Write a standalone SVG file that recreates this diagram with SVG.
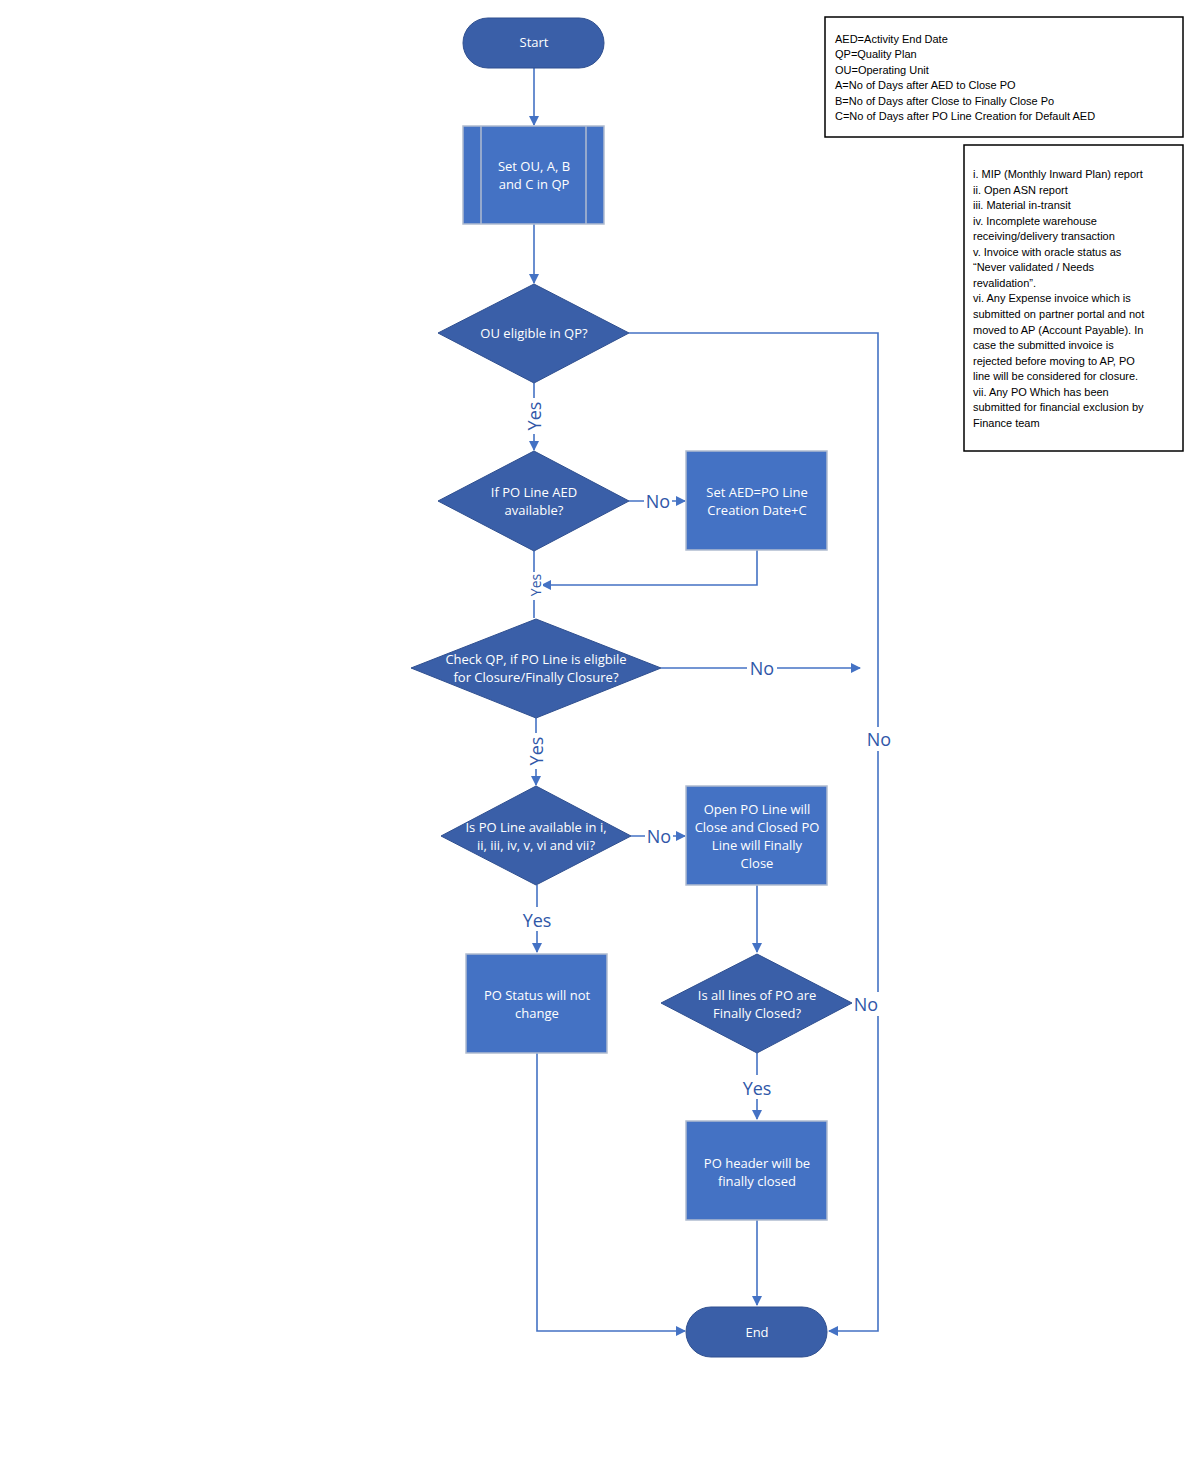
<svg xmlns="http://www.w3.org/2000/svg" width="1200" height="1465" viewBox="0 0 1200 1465">
<style>
.t{fill:#3a5fa8;stroke:#2f4f8f;stroke-width:1}
.d{fill:#3a5fa8;stroke:#2f4f8f;stroke-width:1}
.p{fill:#4472c4;stroke:#b0bcd0;stroke-width:1.5}
.w{font-family:"Open Sans","Liberation Sans",sans-serif;font-size:13px;fill:#fff;text-anchor:middle}
.c{fill:none;stroke:#4472c4;stroke-width:1.6}
.l{font-family:"Open Sans","Liberation Sans",sans-serif;font-size:18px;fill:#2f57a8;text-anchor:middle}
.n{font-family:"Liberation Sans",sans-serif;font-size:11px;fill:#000}
.b{fill:#fff;stroke:#000;stroke-width:1.5}
</style>
<defs><marker id="a" markerWidth="10" markerHeight="10" refX="9" refY="5" orient="auto" markerUnits="userSpaceOnUse"><path d="M0,0 L10,5 L0,10 z" fill="#4472c4"/></marker></defs>
<rect width="1200" height="1465" fill="#fff"/>
<g id="connectors">
<path class="c" d="M534,68 V125" marker-end="url(#a)"/>
<path class="c" d="M534,224 V283" marker-end="url(#a)"/>
<path class="c" d="M534,383 V450" marker-end="url(#a)"/>
<path class="c" d="M629,501 H685" marker-end="url(#a)"/>
<path class="c" d="M534,551 V618"/>
<path class="c" d="M757,550 V585 H542" marker-end="url(#a)"/>
<path class="c" d="M661,668 H860" marker-end="url(#a)"/>
<path class="c" d="M536,718 V785" marker-end="url(#a)"/>
<path class="c" d="M631,836 H685" marker-end="url(#a)"/>
<path class="c" d="M537,885 V952" marker-end="url(#a)"/>
<path class="c" d="M757,885 V952" marker-end="url(#a)"/>
<path class="c" d="M537,1053 V1331 H685" marker-end="url(#a)"/>
<path class="c" d="M757,1053 V1119" marker-end="url(#a)"/>
<path class="c" d="M757,1220 V1305" marker-end="url(#a)"/>
<path class="c" d="M629,333 H878 V1331 H829" marker-end="url(#a)"/>
<path class="c" d="M852,1003 H878"/>
<g class="l">
<rect x="525" y="398" width="18" height="36" fill="#fff"/><text transform="translate(541,416) rotate(-90)">Yes</text>
<rect x="527" y="572" width="16" height="28" fill="#fff"/><text font-size="14" transform="translate(541,585) rotate(-90)">Yes</text>
<rect x="527" y="733" width="18" height="36" fill="#fff"/><text transform="translate(543,751) rotate(-90)">Yes</text>
<rect x="644" y="490" width="28" height="22" fill="#fff"/><text x="658" y="508">No</text>
<rect x="747" y="657" width="30" height="22" fill="#fff"/><text x="762" y="675">No</text>
<rect x="645" y="825" width="28" height="22" fill="#fff"/><text x="659" y="843">No</text>
<rect x="520" y="907" width="34" height="24" fill="#fff"/><text x="537" y="927">Yes</text>
<rect x="740" y="1075" width="34" height="24" fill="#fff"/><text x="757" y="1095">Yes</text>
<rect x="864" y="727" width="30" height="24" fill="#fff"/><text x="879" y="746">No</text>
<rect x="852" y="992" width="28" height="24" fill="#fff"/><text x="866" y="1011">No</text>
</g>
</g>
<g id="start"><rect class="t" x="463" y="18" width="141" height="50" rx="25"/><text class="w" x="534" y="47">Start</text></g>
<g id="setou"><rect class="p" x="463" y="126" width="141" height="98"/><line x1="481" y1="126" x2="481" y2="224" stroke="#b0bcd0" stroke-width="1.5"/><line x1="586" y1="126" x2="586" y2="224" stroke="#b0bcd0" stroke-width="1.5"/><text class="w" x="534" y="171">Set OU, A, B</text><text class="w" x="534" y="189">and C in QP</text></g>
<g id="d1"><path class="d" d="M534,284 L629,333 L534,383 L438,333 z"/><text class="w" x="534" y="338">OU eligible in QP?</text></g>
<g id="d2"><path class="d" d="M534,451 L629,501 L534,551 L438,501 z"/><text class="w" x="534" y="497">If PO Line AED</text><text class="w" x="534" y="515">available?</text></g>
<g id="setaed"><rect class="p" x="686" y="451" width="141" height="99"/><text class="w" x="757" y="497">Set AED=PO Line</text><text class="w" x="757" y="515">Creation Date+C</text></g>
<g id="d3"><path class="d" d="M536,619 L661,668 L536,718 L411,668 z"/><text class="w" x="536" y="664">Check QP, if PO Line  is eligbile</text><text class="w" x="536" y="682">for Closure/Finally Closure?</text></g>
<g id="d4"><path class="d" d="M536,786 L631,836 L536,885 L441,836 z"/><text class="w" x="536" y="832">Is PO Line available in i,</text><text class="w" x="536" y="850">ii, iii, iv, v, vi and vii?</text></g>
<g id="openpo"><rect class="p" x="686" y="786" width="141" height="99"/><text class="w" x="757" y="814">Open PO Line will</text><text class="w" x="757" y="832">Close and Closed PO</text><text class="w" x="757" y="850">Line will Finally</text><text class="w" x="757" y="868">Close</text></g>
<g id="postatus"><rect class="p" x="466" y="954" width="141" height="99"/><text class="w" x="537" y="1000">PO Status will not</text><text class="w" x="537" y="1018">change</text></g>
<g id="d5"><path class="d" d="M757,954 L852,1003 L757,1053 L661,1003 z"/><text class="w" x="757" y="1000">Is all lines of PO are</text><text class="w" x="757" y="1018">Finally Closed?</text></g>
<g id="header"><rect class="p" x="686" y="1121" width="141" height="99"/><text class="w" x="757" y="1168">PO header will be</text><text class="w" x="757" y="1186">finally closed</text></g>
<g id="end"><rect class="t" x="686" y="1307" width="141" height="50" rx="25"/><text class="w" x="757" y="1337">End</text></g>
<g id="legend1"><rect class="b" x="825" y="17" width="358" height="120"/>
<text class="n" x="835" y="43">AED=Activity End Date</text>
<text class="n" x="835" y="58">QP=Quality Plan</text>
<text class="n" x="835" y="74">OU=Operating Unit</text>
<text class="n" x="835" y="89">A=No of Days after AED to Close PO</text>
<text class="n" x="835" y="105">B=No of Days after Close to Finally Close Po</text>
<text class="n" x="835" y="120">C=No of Days after PO Line Creation for Default AED</text></g>
<g id="legend2"><rect class="b" x="964" y="145" width="219" height="306"/>
<g class="n">
<text x="973" y="178">i. MIP (Monthly Inward Plan) report</text>
<text x="973" y="194">ii. Open ASN report</text>
<text x="973" y="209">iii. Material in-transit</text>
<text x="973" y="225">iv. Incomplete warehouse</text>
<text x="973" y="240">receiving/delivery transaction</text>
<text x="973" y="256">v. Invoice with oracle status as</text>
<text x="973" y="271">“Never validated / Needs</text>
<text x="973" y="287">revalidation”.</text>
<text x="973" y="302">vi. Any Expense invoice which is</text>
<text x="973" y="318">submitted on partner portal and not</text>
<text x="973" y="334">moved to AP (Account Payable). In</text>
<text x="973" y="349">case the submitted invoice is</text>
<text x="973" y="365">rejected before moving to AP, PO</text>
<text x="973" y="380">line will be considered for closure.</text>
<text x="973" y="396">vii. Any PO Which has been</text>
<text x="973" y="411">submitted for financial exclusion by</text>
<text x="973" y="427">Finance team</text>
</g></g>
</svg>
